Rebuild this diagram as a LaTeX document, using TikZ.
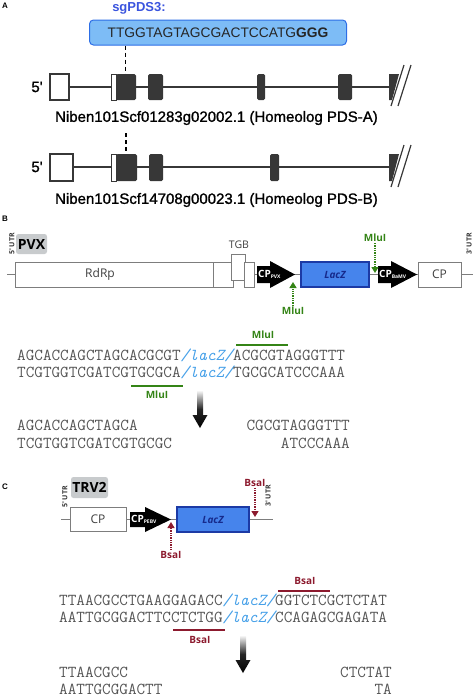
\documentclass[tikz,border=0pt]{standalone}
\usepackage{fontspec}
\setmainfont{Liberation Sans}
\newfontfamily\genefont[FakeBold=1.2]{Liberation Sans}
\newfontfamily\mapfont{Open Sans}
\usetikzlibrary{arrows.meta,calc,positioning}

\definecolor{sgblue}{RGB}{58,84,222}
\definecolor{sgfill}{RGB}{125,188,246}
\definecolor{sgedge}{RGB}{45,110,230}
\definecolor{exon}{RGB}{55,55,55}
\definecolor{mapline}{RGB}{125,125,125}
\definecolor{lacfill}{RGB}{70,132,236}
\definecolor{lacedge}{RGB}{28,58,165}
\definecolor{lactext}{RGB}{22,42,140}
\definecolor{mlu}{RGB}{52,132,22}
\definecolor{bsa}{RGB}{140,26,46}
\definecolor{lzblue}{RGB}{70,160,232}
\definecolor{seqgray}{RGB}{85,85,85}
\definecolor{tagfill}{RGB}{200,203,205}

\newcommand\lz{{\color{lzblue}\itshape/lacZ/}}
\newcommand\cpsub[1]{\raisebox{-1.5pt}{\fontsize{5}{5}\selectfont #1}}

\begin{document}
\begin{tikzpicture}[x=1pt, y=-1pt, >=Stealth,
  seq/.style={font=\ttfamily\fontsize{16.7}{18}\selectfont, text=seqgray, inner sep=0pt},
  gene/.style={draw=exon, line width=1.2pt},
  exonbox/.style={fill=exon, rounded corners=1.5pt},
  mapbox/.style={draw=mapline, line width=1pt, fill=white, inner sep=0pt, font=\mapfont\fontsize{12}{14}\selectfont, text=black!75},
  lacbox/.style={draw=lacedge, line width=1.2pt, fill=lacfill, inner sep=0pt, minimum height=25pt, font=\mapfont\bfseries\itshape\fontsize{10}{12}\selectfont, text=lactext},
  tag/.style={fill=tagfill, rounded corners=2.5pt, inner sep=0pt, font=\mapfont\bfseries\fontsize{14}{16}\selectfont},
  utr/.style={rotate=90, font=\mapfont\bfseries\fontsize{7}{8}\selectfont, text=black!80, inner sep=0pt},
  cptext/.style={text=white, inner sep=0pt, anchor=west, font=\mapfont\bfseries\fontsize{10}{12}\selectfont},
  site/.style={font=\mapfont\bfseries\fontsize{10}{12}\selectfont, inner sep=1pt},
  cut/.style={->, densely dotted, line width=1.3pt, >={Triangle[length=6pt,width=7pt]}},
  panel/.style={font=\bfseries\fontsize{8}{9}\selectfont, inner sep=0pt}]
  \useasboundingbox (0,0) rectangle (474,699);

  % --- A: sgRNA and the two PDS homeologs
  \node[panel] (pA) at (5,6) {A};
  \node[text=sgblue, font=\bfseries\fontsize{13}{15}\selectfont] (sglab) at (139,8) {sgPDS3:};
  \node[draw=sgedge, line width=1pt, fill=sgfill, rounded corners=4pt, minimum width=257pt, minimum height=25pt, inner sep=0pt,
        font=\fontsize{13.8}{16}\selectfont, text=black!85] (sg) at (218,32.5) {TTGGTAGTAGCGACTCCATG\textbf{GGG}};
  \coordinate (ta) at (125.5,74);
  \draw[dashed, line width=1.3pt, dash pattern=on 4pt off 3pt] (sg.south -| ta) -- (ta);

  \node[font=\genefont\fontsize{15}{17}\selectfont] (fiveA) at (37,87) {5'};
  \draw[gene] (69,87) -- (389,87);
  \draw[gene, fill=white] (50,74) rectangle (69,100);
  \draw[gene, fill=white, line width=1pt] (111,74) rectangle (116,100);
  \fill[exonbox] (116,74) rectangle (136,100);
  \fill[exonbox] (148,74) rectangle (163,100);
  \fill[exonbox] (257,74) rectangle (265,100);
  \fill[exonbox] (338,74) rectangle (352,100);
  \fill[exon] (389,74) -- (399,74) -- (392,100) -- (389,100) -- cycle;
  \draw[exon, line width=1.2pt] (404,65) -- (391,106) (411,65) -- (398,106);
  \node[font=\genefont\fontsize{15}{17}\selectfont] (geneA) at (216.5,118) {Niben101Scf01283g02002.1 (Homeolog PDS-A)};

  \coordinate (tb) at (126,154);
  \draw[dashed, line width=1.3pt, dash pattern=on 4pt off 3pt] (126,133) -- (tb);
  \node[font=\genefont\fontsize{15}{17}\selectfont] (fiveB) at (37,167) {5'};
  \draw[gene] (73,167) -- (389,167);
  \draw[gene, fill=white] (50,154) rectangle (73,181);
  \draw[gene, fill=white, line width=1pt] (111,154) rectangle (116,181);
  \fill[exonbox] (116,154) rectangle (137,181);
  \fill[exonbox] (149,154) rectangle (163,181);
  \fill[exonbox] (270,154) rectangle (279,181);
  \fill[exon] (389,154) -- (399,154) -- (392,181) -- (389,181) -- cycle;
  \draw[exon, line width=1.2pt] (404,145) -- (391,187) (411,145) -- (398,187);
  \node[font=\genefont\fontsize{15}{17}\selectfont] (geneB) at (216.5,200) {Niben101Scf14708g00023.1 (Homeolog PDS-B)};

  % --- B: PVX vector
  \node[panel] (pB) at (5,219) {B};
  \node[tag, minimum width=31pt, minimum height=20pt] (pvx) at (31.5,244) {PVX};
  \node[utr] (utr5b) at (12,244) {5' UTR};
  \node[utr] (utr3b) at (469,244) {3' UTR};
  \draw[mapline, line width=1pt] (7,274.5) -- (473,274.5);
  \node[mapbox, minimum width=198pt, minimum height=25pt] (rdrp) at (114,274.5) {};
  \node[font=\mapfont\fontsize{12}{14}\selectfont, text=black!75] (rdrplab) at (100,274.5) {RdRp};
  \draw[mapline, line width=1pt, fill=white] (213,262) rectangle (233,287);
  \draw[mapline, line width=1pt, fill=white] (231,254) rectangle (245,280);
  \draw[mapline, line width=1pt, fill=white] (244,262) rectangle (254,287);
  \node[font=\mapfont\fontsize{10.5}{12}\selectfont, text=black!75] (tgb) at (239,245) {TGB};
  \fill (257,266) -- ++(13,0) -- ++(0,-5) -- (295,274.5) -- (270,288) -- ++(0,-5) -- ++(-13,0) -- cycle;
  \node[cptext] (cppvx) at (258,274.5) {CP\cpsub{PVX}};
  \node[lacbox, minimum width=68pt] (laczb) at (335,274.5) {LacZ};
  \fill (378,266) -- ++(13,0) -- ++(0,-5) -- (417,274.5) -- (391,288) -- ++(0,-5) -- ++(-13,0) -- cycle;
  \node[cptext] (cpbamv) at (379,274.5) {CP\cpsub{BaMV}};
  \node[mapbox, minimum width=43pt, minimum height=25pt] (cpb) at (439.5,274.5) {CP};
  \node[site, text=mlu] (mluT) at (375,238) {MluI};
  \coordinate (cutT) at (375,273);
  \draw[cut, mlu] (mluT) -- (cutT);
  \node[site, text=mlu] (mluB) at (293,311) {MluI};
  \coordinate (cutB) at (293,282);
  \draw[cut, mlu] (mluB) -- (cutB);

  % MluI digest
  \node[site, text=mlu] (mluS1) at (263,335) {MluI};
  \draw[mlu, line width=2pt] (236,345) -- (288,345);
  \node[seq, anchor=mid west] (b1) at (17,358) {AGCACCAGCTAGCACGCGT\lz ACGCGTAGGGTTT};
  \node[seq, anchor=mid west] (b2) at (17,375) {TCGTGGTCGATCGTGCGCA\lz TGCGCATCCCAAA};
  \draw[mlu, line width=2pt] (131,386) -- (183,386);
  \node[site, text=mlu] (mluS2) at (157,395) {MluI};
  \shade[top color=white, bottom color=black, middle color=black!85] (197,390) -- (203,390) -- (203,415) -- (207.5,415) -- (200,428) -- (192.5,415) -- (197,415) -- cycle;
  \node[seq, anchor=mid west] (b3) at (17,428) {AGCACCAGCTAGCA};
  \node[seq, anchor=mid east] (b4) at (350,428) {CGCGTAGGGTTT};
  \node[seq, anchor=mid west] (b5) at (17,446) {TCGTGGTCGATCGTGCGC};
  \node[seq, anchor=mid east] (b6) at (350,446) {ATCCCAAA};

  % --- C: TRV2 vector
  \node[panel] (pC) at (5,487) {C};
  \node[tag, minimum width=37pt, minimum height=21pt] (trv) at (89.5,487.5) {TRV2};
  \node[utr] (utr5c) at (65,497) {5' UTR};
  \node[utr] (utr3c) at (268,496) {3' UTR};
  \draw[mapline, line width=1pt] (61,519.5) -- (273,519.5);
  \node[mapbox, minimum width=56pt, minimum height=24pt] (cpc) at (98,519.5) {CP};
  \fill (130,512) -- ++(15,0) -- ++(0,-5) -- (171,519.5) -- (145,532) -- ++(0,-5) -- ++(-15,0) -- cycle;
  \node[cptext] (cppebv) at (131,519.5) {CP\cpsub{PEBV}};
  \node[lacbox, minimum width=72pt] (laczc) at (213,519.5) {LacZ};
  \node[site, text=bsa] (bsaT) at (255,483) {BsaI};
  \coordinate (cutT2) at (255,517);
  \draw[cut, bsa] (bsaT) -- (cutT2);
  \node[site, text=bsa] (bsaB) at (171,555) {BsaI};
  \coordinate (cutB2) at (171,522);
  \draw[cut, bsa] (bsaB) -- (cutB2);

  % BsaI digest
  \node[site, text=bsa] (bsaS1) at (305,581) {BsaI};
  \draw[bsa, line width=2pt] (278,591) -- (330,591);
  \node[seq, anchor=mid west] (c1) at (59,603) {TTAACGCCTGAAGGAGACC\lz GGTCTCGCTCTAT};
  \node[seq, anchor=mid west] (c2) at (59,620) {AATTGCGGACTTCCTCTGG\lz CCAGAGCGAGATA};
  \draw[bsa, line width=2pt] (173,630) -- (225,630);
  \node[site, text=bsa] (bsaS2) at (200,640) {BsaI};
  \shade[top color=white, bottom color=black, middle color=black!85] (240,635) -- (246,635) -- (246,660) -- (250.5,660) -- (243,673) -- (235.5,660) -- (240,660) -- cycle;
  \node[seq, anchor=mid west] (c3) at (59,675) {TTAACGCC};
  \node[seq, anchor=mid east] (c4) at (392,675) {CTCTAT};
  \node[seq, anchor=mid west] (c5) at (59,692) {AATTGCGGACTT};
  \node[seq, anchor=mid east] (c6) at (392,692) {TA};
\end{tikzpicture}
\end{document}
